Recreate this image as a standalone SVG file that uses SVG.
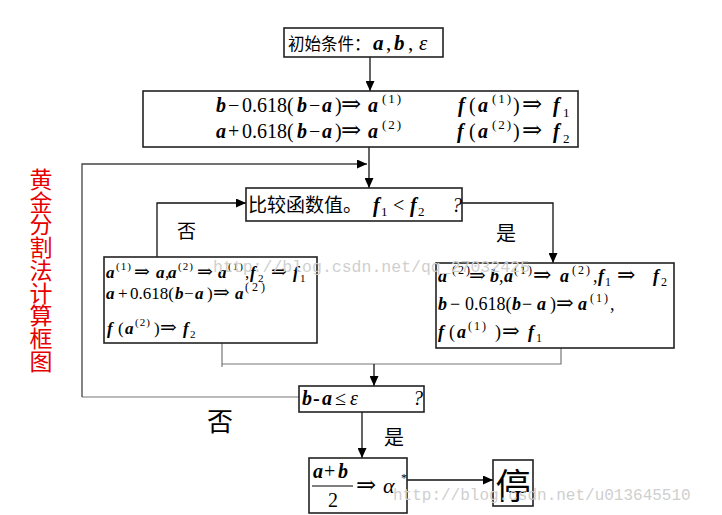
<svg xmlns="http://www.w3.org/2000/svg" width="722" height="515" viewBox="0 0 722 515">
<style>
.bx{fill:#fff;stroke:#222;stroke-width:1.6}
.ln{fill:none;stroke:#111;stroke-width:1.3}
.gl{fill:none;stroke:#777;stroke-width:1.2}
.m{font-family:"Liberation Serif","DejaVu Serif",serif;font-size:20px;fill:#000}
.v{font-weight:bold;font-style:italic}
.i{font-style:italic}
.s{font-size:13px;letter-spacing:2px}
.sb{font-size:13px}
.ar{font-family:"DejaVu Serif",serif}
.cn{font-family:"Noto Sans CJK SC","Noto Sans CJK JP",sans-serif;fill:#000}
.wm{font-family:"Liberation Mono",monospace;fill:#cfcfcf}
</style>
<defs>
<marker id="ah" markerUnits="userSpaceOnUse" markerWidth="10" markerHeight="9" refX="10" refY="4.5" orient="auto">
<path d="M0,0 L10,4.5 L0,9 z" fill="#000"/>
</marker>
</defs>
<rect width="722" height="515" fill="#fff"/>

<g id="title">
<text class="cn" font-size="23" style="fill:#e60000" text-anchor="middle">
<tspan x="41" y="188">黄</tspan><tspan x="41" y="210.7">金</tspan><tspan x="41" y="233.4">分</tspan><tspan x="41" y="256.1">割</tspan><tspan x="41" y="278.8">法</tspan><tspan x="41" y="301.5">计</tspan><tspan x="41" y="324.2">算</tspan><tspan x="41" y="346.9">框</tspan><tspan x="41" y="369.6">图</tspan>
</text>
</g>

<g id="connectors">
<path class="ln" d="M370,57 V91" marker-end="url(#ah)"/>
<path class="ln" d="M369,147 V188" marker-end="url(#ah)"/>
<path class="gl" d="M299,397 H82"/>
<path class="ln" style="stroke:#444" d="M82,397 V164 H367" marker-end="url(#ah)"/>
<path class="ln" d="M157,257 V203 H246" marker-end="url(#ah)"/>
<path class="ln" d="M462,203 H553 V263" marker-end="url(#ah)"/>
<path class="gl" d="M222,343 V367 M222,364 H561 V348"/>
<path class="ln" d="M374,364 V386" marker-end="url(#ah)"/>
<path class="ln" d="M362,412 V458" marker-end="url(#ah)"/>
<path class="ln" d="M407,480 H493" marker-end="url(#ah)"/>
</g>

<g id="labels">
<text class="cn" font-size="19" x="177" y="238">否</text>
<text class="cn" font-size="20" x="496" y="241">是</text>
<text class="cn" font-size="26" x="207" y="431">否</text>
<text class="cn" font-size="20" x="384" y="445">是</text>
</g>

<g id="n-init">
<rect class="bx" x="284" y="28" width="159" height="29"/>
<text class="cn" font-size="16.5" x="288" y="50">初始条件：</text>
<text class="m" style="font-size:21px" y="50"><tspan x="373" class="v">a</tspan><tspan x="386">,</tspan><tspan x="394" class="v">b</tspan><tspan x="408">,</tspan><tspan x="419" class="i">ε</tspan></text>
</g>

<g id="n-init2">
<rect class="bx" x="143" y="91" width="435" height="56"/>
<text class="m" y="112"><tspan x="216" class="v">b</tspan><tspan x="228">−</tspan><tspan x="242">0.618(</tspan><tspan x="297" class="v">b</tspan><tspan x="309">−</tspan><tspan x="322" class="v">a</tspan><tspan x="335">)</tspan><tspan x="341" class="ar" font-size="24">⇒</tspan><tspan x="368" class="v">a</tspan><tspan x="382" y="103" class="s">(1)</tspan></text>
<text class="m" y="112"><tspan x="458" class="v">f</tspan><tspan x="469">(</tspan><tspan x="478" class="v">a</tspan><tspan x="492" y="103" class="s">(1)</tspan><tspan x="513" y="112">)</tspan><tspan x="522" class="ar" font-size="24">⇒</tspan><tspan x="553" class="v">f</tspan><tspan x="563" y="117" class="sb">1</tspan></text>
<text class="m" y="138"><tspan x="216" class="v">a</tspan><tspan x="228">+</tspan><tspan x="242">0.618(</tspan><tspan x="297" class="v">b</tspan><tspan x="309">−</tspan><tspan x="322" class="v">a</tspan><tspan x="335">)</tspan><tspan x="341" class="ar" font-size="24">⇒</tspan><tspan x="368" class="v">a</tspan><tspan x="382" y="129" class="s">(2)</tspan></text>
<text class="m" y="138"><tspan x="457" class="v">f</tspan><tspan x="469">(</tspan><tspan x="478" class="v">a</tspan><tspan x="492" y="129" class="s">(2)</tspan><tspan x="513" y="138">)</tspan><tspan x="522" class="ar" font-size="24">⇒</tspan><tspan x="553" class="v">f</tspan><tspan x="563" y="143" class="sb">2</tspan></text>
</g>

<g id="n-compare">
<rect class="bx" x="246" y="188" width="216" height="33"/>
<text class="cn" font-size="19" x="248" y="212">比较函数值。</text>
<text class="m" y="212"><tspan x="373" class="v">f</tspan><tspan x="381" y="216" class="sb">1</tspan><tspan x="393" y="212">&lt;</tspan><tspan x="410" class="v">f</tspan><tspan x="418" y="216" class="sb">2</tspan><tspan x="452" y="212" class="i">?</tspan></text>
</g>

<g id="n-left">
<rect class="bx" x="104" y="257" width="213" height="86"/>
<text class="m" style="font-size:17px" y="278"><tspan x="106" class="v">a</tspan><tspan x="116" y="270" class="s" style="font-size:11px;letter-spacing:1px">(1)</tspan><tspan x="134" y="278" class="ar" font-size="19">⇒</tspan><tspan x="156" class="v">a</tspan><tspan x="165">,</tspan><tspan x="168" class="v">a</tspan><tspan x="178" y="270" class="s" style="font-size:11px;letter-spacing:1px">(2)</tspan><tspan x="197" y="278" class="ar" font-size="19">⇒</tspan><tspan x="218" class="v">a</tspan><tspan x="228" y="270" class="s" style="font-size:11px;letter-spacing:1px">(1)</tspan><tspan x="245" y="278">,</tspan><tspan x="250" class="v">f</tspan><tspan x="258" y="282" class="sb" style="font-size:11px">2</tspan><tspan x="271" y="278" class="ar" font-size="19">⇒</tspan><tspan x="293" class="v">f</tspan><tspan x="300" y="282" class="sb" style="font-size:11px">1</tspan></text>
<text class="m" style="font-size:17px" y="299"><tspan x="106" class="v">a</tspan><tspan x="118">+</tspan><tspan x="130">0.618(</tspan><tspan x="175" class="v">b</tspan><tspan x="184">−</tspan><tspan x="195" class="v">a</tspan><tspan x="207">)</tspan><tspan x="213" class="ar" font-size="20">⇒</tspan><tspan x="235" class="v">a</tspan><tspan x="245" y="291" class="s" style="font-size:12px;letter-spacing:3px">(2)</tspan></text>
<text class="m" style="font-size:17px" y="334"><tspan x="107" class="v">f</tspan><tspan x="118">(</tspan><tspan x="125" class="v">a</tspan><tspan x="135" y="326" class="s" style="font-size:11px;letter-spacing:1px">(2)</tspan><tspan x="154" y="334">)</tspan><tspan x="160" class="ar" font-size="20">⇒</tspan><tspan x="183" class="v">f</tspan><tspan x="190" y="338" class="sb" style="font-size:11px">2</tspan></text>
</g>

<g id="n-right">
<rect class="bx" x="436" y="263" width="238" height="85"/>
<text class="m" style="font-size:18px" y="282"><tspan x="438" class="v">a</tspan><tspan x="452" y="274" class="s" style="font-size:12px">(2)</tspan><tspan x="469" y="282" class="ar" font-size="20">⇒</tspan><tspan x="490" class="v">b</tspan><tspan x="499">,</tspan><tspan x="504" class="v">a</tspan><tspan x="514" y="274" class="s" style="font-size:12px">(1)</tspan><tspan x="533" y="282" class="ar" font-size="22">⇒</tspan><tspan x="560" class="v">a</tspan><tspan x="572" y="274" class="s" style="font-size:12px">(2)</tspan><tspan x="593" y="282">,</tspan><tspan x="598" class="v">f</tspan><tspan x="605" y="286" class="sb" style="font-size:12px">1</tspan><tspan x="617" y="282" class="ar" font-size="22">⇒</tspan><tspan x="653" class="v">f</tspan><tspan x="661" y="286" class="sb" style="font-size:12px">2</tspan></text>
<text class="m" style="font-size:18px" y="310"><tspan x="438" class="v">b</tspan><tspan x="450">−</tspan><tspan x="465">0.618(</tspan><tspan x="512" class="v">b</tspan><tspan x="522">−</tspan><tspan x="537" class="v">a</tspan><tspan x="550">)</tspan><tspan x="556" class="ar" font-size="21">⇒</tspan><tspan x="578" class="v">a</tspan><tspan x="590" y="302" class="s" style="font-size:12px">(1)</tspan><tspan x="610" y="310">,</tspan></text>
<text class="m" style="font-size:18px" y="338"><tspan x="438" class="v">f</tspan><tspan x="449">(</tspan><tspan x="457" class="v">a</tspan><tspan x="468" y="330" class="s" style="font-size:12px">(1)</tspan><tspan x="495" y="338">)</tspan><tspan x="502" class="ar" font-size="21">⇒</tspan><tspan x="528" class="v">f</tspan><tspan x="536" y="342" class="sb" style="font-size:12px">1</tspan></text>
</g>

<g id="n-check">
<rect class="bx" x="299" y="386" width="125" height="26"/>
<text class="m" y="405"><tspan x="302" class="v">b</tspan><tspan x="313" font-weight="bold">-</tspan><tspan x="322" class="v">a</tspan><tspan x="335">≤</tspan><tspan x="350" class="i">ε</tspan><tspan x="413" class="i">?</tspan></text>
</g>

<g id="n-result">
<rect class="bx" x="309" y="458" width="98" height="55"/>
<text class="m" y="478"><tspan x="313" class="v">a</tspan><tspan x="324">+</tspan><tspan x="338" class="v">b</tspan></text>
<line x1="312" y1="486" x2="353" y2="486" stroke="#000" stroke-width="1.2"/>
<text class="m" x="328" y="507">2</text>
<text class="m" y="493"><tspan x="356" class="ar" font-size="24">⇒</tspan><tspan x="383" class="i" font-size="22">α</tspan><tspan x="401" y="482" font-size="12">*</tspan></text>
</g>

<g id="n-stop">
<rect class="bx" x="493" y="460" width="40" height="46"/>
<text class="cn" font-size="35" x="513" y="499" text-anchor="middle">停</text>
</g>

<g id="watermarks">
<text class="wm" font-size="16.5" x="213" y="272">http://blog.csdn.net/qq_27032425</text>
<text class="wm" font-size="16" x="393" y="500">http://blog.csdn.net/u013645510</text>
</g>
</svg>
